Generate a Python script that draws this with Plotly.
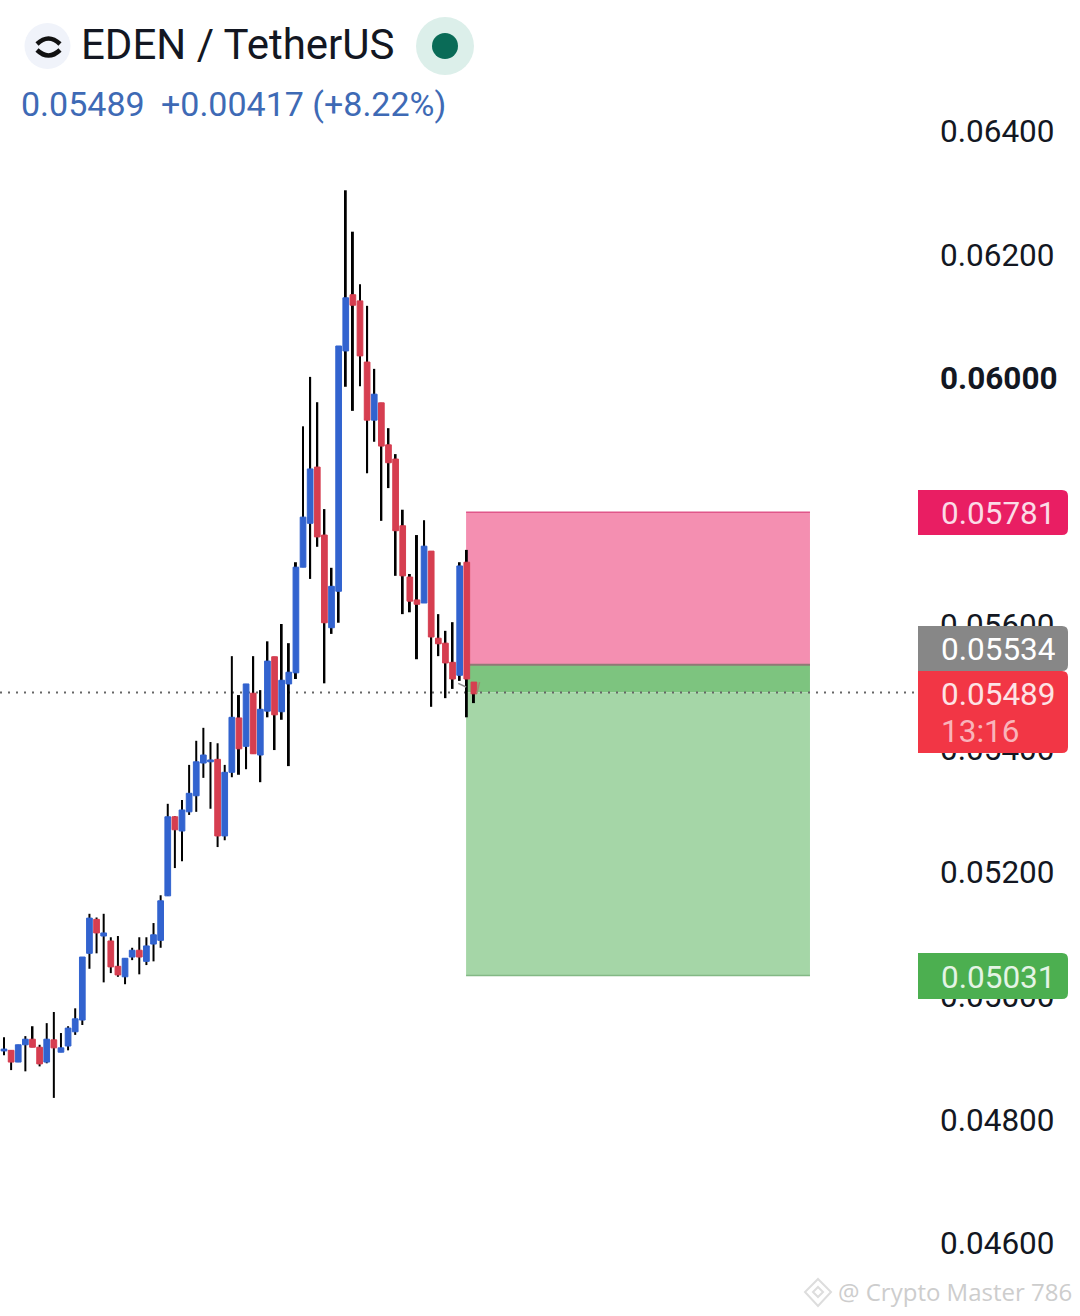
import plotly.graph_objects as go

# candles, oldest first
opens = [0.04911, 0.04912, 0.04893, 0.04921, 0.04930, 0.04917, 0.04893, 0.04929, 0.04909, 0.04919,
         0.04942, 0.04961, 0.05069, 0.05124, 0.05097, 0.05089, 0.05048, 0.05031, 0.05063, 0.05074,
         0.05056, 0.05084, 0.05090, 0.05162, 0.05290, 0.05267, 0.05298, 0.05324, 0.05377, 0.05379,
         0.05383, 0.05259, 0.05362, 0.05450, 0.05404, 0.05490, 0.05390, 0.05461, 0.05549, 0.05460,
         0.05505, 0.05523, 0.05694, 0.05765, 0.05856, 0.05746, 0.05596, 0.05655, 0.06044, 0.06135,
         0.06125, 0.06026, 0.05932, 0.05960, 0.05892, 0.05869, 0.05761, 0.05678, 0.05641, 0.05636,
         0.05720, 0.05579, 0.05571, 0.05540, 0.05519, 0.05702, 0.05508]
highs = [0.04933, 0.04912, 0.04921, 0.04935, 0.04951, 0.04921, 0.04956, 0.04974, 0.04940, 0.04951,
         0.04980, 0.05063, 0.05133, 0.05127, 0.05133, 0.05095, 0.05097, 0.05061, 0.05078, 0.05095,
         0.05095, 0.05118, 0.05163, 0.05311, 0.05291, 0.05317, 0.05374, 0.05413, 0.05434, 0.05411,
         0.05409, 0.05374, 0.05550, 0.05487, 0.05505, 0.05550, 0.05495, 0.05574, 0.05549, 0.05602,
         0.05571, 0.05702, 0.05922, 0.06002, 0.05961, 0.05788, 0.05693, 0.06052, 0.06304, 0.06237,
         0.06152, 0.06117, 0.06015, 0.05960, 0.05919, 0.05877, 0.05787, 0.05683, 0.05746, 0.05770,
         0.05720, 0.05618, 0.05591, 0.05605, 0.05702, 0.05722, 0.05508]
lows = [0.04904, 0.04880, 0.04893, 0.04878, 0.04917, 0.04886, 0.04891, 0.04835, 0.04909, 0.04912,
        0.04937, 0.04953, 0.05044, 0.05069, 0.05022, 0.05037, 0.05031, 0.05019, 0.05058, 0.05035,
        0.05050, 0.05056, 0.05078, 0.05162, 0.05207, 0.05218, 0.05293, 0.05298, 0.05353, 0.05303,
        0.05241, 0.05252, 0.05354, 0.05358, 0.05367, 0.05392, 0.05346, 0.05451, 0.05398, 0.05447,
        0.05372, 0.05513, 0.05694, 0.05675, 0.05727, 0.05506, 0.05586, 0.05604, 0.05986, 0.05947,
        0.05987, 0.05846, 0.05897, 0.05769, 0.05822, 0.05680, 0.05618, 0.05621, 0.05545, 0.05636,
        0.05468, 0.05550, 0.05482, 0.05497, 0.05510, 0.05451, 0.05474]
closes = [0.04914, 0.04893, 0.04921, 0.04930, 0.04917, 0.04890, 0.04930, 0.04916, 0.04916, 0.04948,
          0.04963, 0.05063, 0.05126, 0.05102, 0.05102, 0.05047, 0.05034, 0.05061, 0.05074, 0.05063,
          0.05081, 0.05099, 0.05154, 0.05290, 0.05269, 0.05301, 0.05328, 0.05379, 0.05390, 0.05382,
          0.05259, 0.05362, 0.05451, 0.05400, 0.05505, 0.05392, 0.05464, 0.05542, 0.05455, 0.05511,
          0.05524, 0.05694, 0.05775, 0.05853, 0.05743, 0.05604, 0.05663, 0.06052, 0.06130, 0.06118,
          0.06036, 0.05932, 0.05974, 0.05890, 0.05863, 0.05753, 0.05680, 0.05639, 0.05634, 0.05728,
          0.05581, 0.05570, 0.05539, 0.05513, 0.05696, 0.05513, 0.05489]
candle_x = list(range(len(opens)))

tick_vals = [0.046, 0.048, 0.050, 0.052, 0.054, 0.056, 0.058, 0.060, 0.062, 0.064]
tick_text = ["0.04600", "0.04800", "0.05000", "0.05200", "0.05400", "0.05600", "0.05800",
             "<b>0.06000</b>", "0.06200", "0.06400"]

# zone edges as they sit in the picture, a hair above the labelled prices
stop_edge = 0.05783
entry_edge = 0.05536
target_edge = 0.05033
last_edge = 0.05491
zone_start = 64.9
zone_end = 113.2
last_line_end = 127.9

W, H = 1080, 1316
PLOT_W = 935


def px(x):
    return x / PLOT_W


def py(y):
    return 1 - y / H


def circle(cx, cy, r, color):
    return dict(type="circle", xref="paper", yref="paper", x0=px(cx - r), x1=px(cx + r),
                y0=py(cy + r), y1=py(cy - r), fillcolor=color, line_width=0, layer="above")


def round_box(x0, y0, x1, y1, color, r=6):
    path = (f"M {px(x0)} {py(y0)} L {px(x1 - r)} {py(y0)} Q {px(x1)} {py(y0)} {px(x1)} {py(y0 + r)} "
            f"L {px(x1)} {py(y1 - r)} Q {px(x1)} {py(y1)} {px(x1 - r)} {py(y1)} L {px(x0)} {py(y1)} Z")
    return dict(type="path", xref="paper", yref="paper", path=path, fillcolor=color,
                line_width=0, layer="above")


def arc(x0, y0, cx, cy, x1, y1):
    path = f"M {px(x0)} {py(y0)} Q {px(cx)} {py(cy)} {px(x1)} {py(y1)}"
    return dict(type="path", xref="paper", yref="paper", path=path,
                line=dict(color="#111111", width=4.5), layer="above")


def label(x, y, text, size, color, family="Roboto"):
    return dict(xref="paper", yref="paper", x=px(x), y=py(y), text=text, showarrow=False,
                xanchor="left", yanchor="middle", font=dict(family=family, size=size, color=color))


fig = go.Figure()
# wicks as thin bars, they sit under the candle layer
fig.add_trace(go.Bar(x=candle_x, base=lows, y=[h - l for h, l in zip(highs, lows)], width=0.28,
                     marker=dict(color="#000000", line_width=0), showlegend=False, hoverinfo="skip"))
# bodies on top, no wick
body_high = [max(o, c) for o, c in zip(opens, closes)]
body_low = [min(o, c) for o, c in zip(opens, closes)]
fig.add_trace(go.Candlestick(x=candle_x, open=opens, high=body_high, low=body_low, close=closes,
                             increasing=dict(line=dict(color="#3263cf", width=1), fillcolor="#3263cf"),
                             decreasing=dict(line=dict(color="#d63e50", width=1), fillcolor="#d63e50"),
                             showlegend=False))

shapes = [
    dict(type="rect", x0=zone_start, x1=zone_end, y0=entry_edge, y1=stop_edge,
         fillcolor="#f48fb1", line_width=0, layer="below"),
    dict(type="rect", x0=zone_start, x1=zone_end, y0=last_edge, y1=entry_edge,
         fillcolor="#7dc47f", line_width=0, layer="below"),
    dict(type="rect", x0=zone_start, x1=zone_end, y0=target_edge, y1=last_edge,
         fillcolor="#a5d6a7", line_width=0, layer="below"),
    dict(type="line", x0=zone_start, x1=zone_end, y0=stop_edge, y1=stop_edge,
         line=dict(color="#e0568a", width=1.5), layer="below"),
    dict(type="line", x0=zone_start, x1=zone_end, y0=entry_edge, y1=entry_edge,
         line=dict(color="#8f7a76", width=2), layer="below"),
    dict(type="line", x0=zone_start, x1=zone_end, y0=target_edge, y1=target_edge,
         line=dict(color="#83b885", width=1.5), layer="below"),
    dict(type="line", x0=-0.56, x1=last_line_end, y0=last_edge, y1=last_edge,
         line=dict(color="#666666", width=2, dash="2px,6px"), layer="below"),
    # little pointer towards the last candle
    dict(type="line", x0=63.8, x1=64.9, y0=0.05506, y1=0.05500,
         line=dict(color="#8a8a8a", width=1.5), layer="above"),
    dict(type="line", x0=66.4, x1=66.8, y0=0.05490, y1=0.05508,
         line=dict(color="#a08a70", width=1.5), layer="above"),
    # header icons
    circle(47.5, 46, 23, "#f0f3fa"),
    arc(37, 44, 48.5, 33, 60, 44),
    arc(37, 50, 48.5, 61, 60, 50),
    circle(445, 46, 29, "#dcefea"),
    circle(445, 46, 13, "#0a6b57"),
    # price tags, these cover some of the axis labels
    round_box(918, 490, 1068, 535, "#e91e63"),
    round_box(918, 626, 1068, 671, "#878787"),
    round_box(918, 671, 1068, 753, "#f23645"),
    round_box(918, 953, 1068, 999, "#4caf50"),
    # watermark logo
    dict(type="path", xref="paper", yref="paper", line=dict(color="#dddddd", width=2), layer="above",
         path=f"M {px(818)} {py(1279)} L {px(831)} {py(1292)} L {px(818)} {py(1306)} "
              f"L {px(805)} {py(1292)} Z"),
    dict(type="path", xref="paper", yref="paper", line=dict(color="#dddddd", width=2), layer="above",
         path=f"M {px(818)} {py(1287)} L {px(823)} {py(1292)} L {px(818)} {py(1297)} "
              f"L {px(813)} {py(1292)} Z"),
]

annotations = [
    label(79, 44, "EDEN / TetherUS", 42, "#131722"),
    label(19, 104, "0.05489", 34, "#3e6ab5"),
    label(159, 104, "+0.00417 (+8.22%)", 34, "#3e6ab5"),
    label(939, 513, "0.05781", 31.5, "#fbdbe6"),
    label(939, 649, "0.05534", 31.5, "#ffffff"),
    label(939, 694, "0.05489", 31.5, "#fde3e5"),
    label(939, 731, "13:16", 31.5, "#f9b4ba"),
    label(939, 977, "0.05031", 31.5, "#e4f4e5"),
    label(836, 1291, "@ Crypto Master 786", 24, "#cdcdcd", "Open Sans"),
]

fig.update_layout(
    width=W, height=H, margin=dict(l=0, r=W - PLOT_W, t=0, b=0),
    paper_bgcolor="#ffffff", plot_bgcolor="#ffffff",
    boxgap=0.2, boxgroupgap=0, showlegend=False, shapes=shapes, annotations=annotations,
    font=dict(family="Roboto"),
    xaxis=dict(range=[-0.562, 130.76], visible=False, rangeslider_visible=False),
    yaxis=dict(range=[0.04482, 0.06612], side="right", tickvals=tick_vals, ticktext=tick_text,
               showgrid=False, zeroline=False, showline=False, ticks="",
               ticklabelstandoff=4, tickfont=dict(family="Roboto", size=31.5, color="#131722")),
)

fig.write_html("out.html", config={"displayModeBar": False},
               post_script="document.body.style.margin='0';")
